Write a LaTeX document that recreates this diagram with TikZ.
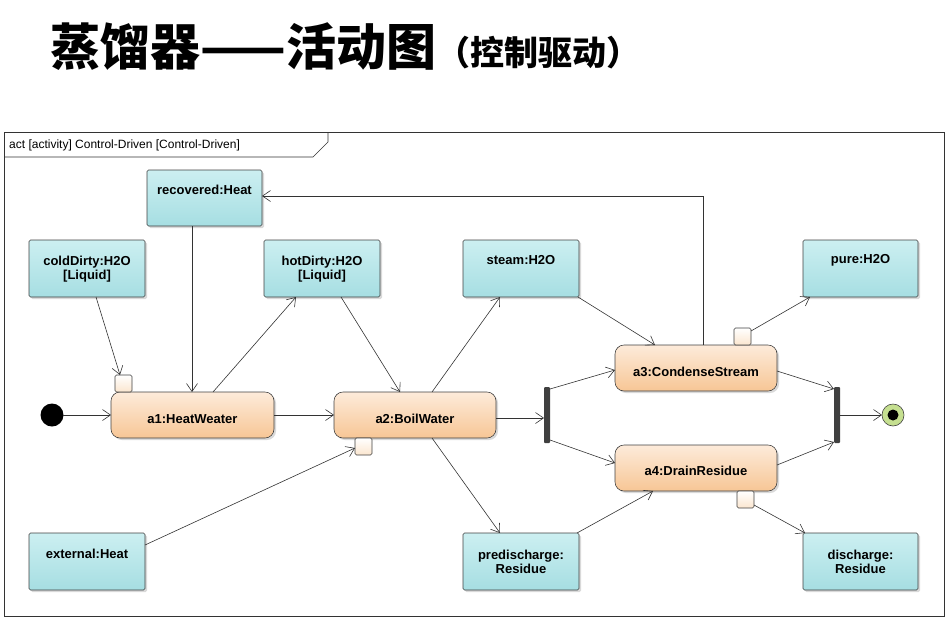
\documentclass[tikz,border=0pt]{standalone}
\usepackage{fontspec}
\setmainfont{Liberation Sans}
\newfontfamily\cjk{Noto Sans CJK SC}
\usetikzlibrary{arrows.meta,shadows}
\definecolor{objT}{HTML}{CCEFF1}
\definecolor{objB}{HTML}{A6DEE2}
\definecolor{actT}{HTML}{FDEBDA}
\definecolor{actB}{HTML}{F7C695}
\definecolor{pinc}{HTML}{FBE6CF}
\definecolor{fing}{HTML}{C5DF90}
\begin{document}
\begin{tikzpicture}[x=1pt,y=-1pt,
  txt/.style={font=\fontsize{13}{16}\selectfont\bfseries, align=center},
  obj/.style={draw=black!75, line width=0.6pt, rounded corners=1.5pt, top color=objT, bottom color=objB, drop shadow={shadow xshift=2pt,shadow yshift=-2pt,fill=black!25,opacity=0.6}},
  act/.style={draw=black!75, line width=0.6pt, rounded corners=9pt, top color=actT, bottom color=actB, drop shadow={shadow xshift=2pt,shadow yshift=-2pt,fill=black!25,opacity=0.6}},
  pin/.style={draw=black!75, line width=0.6pt, rounded corners=1.5pt, top color=white, bottom color=pinc},
  bar/.style={fill=black!75, rounded corners=1pt},
  flow/.style={draw=black!80, line width=0.6pt, -{Straight Barb[length=8pt,width=11pt]}}]
\useasboundingbox (0,0) rectangle (950,622);
% title
\node[anchor=west, inner sep=0] (title) at (50,47) {\cjk\fontsize{50}{54}\selectfont\bfseries 蒸馏器——活动图\fontsize{34}{38}\selectfont（控制驱动）};
% frame
\draw[black!80, line width=0.6pt] (4,132) rectangle (944,616);
\draw[black!80, line width=0.6pt] (4,157) -- (313,157) -- (328,142) -- (328,132);
\node[anchor=west, font=\fontsize{12}{14}\selectfont, inner sep=0] (flabel) at (9,145) {act [activity] Control-Driven [Control-Driven]};
% objects
\draw[obj] (147,170) rectangle (262,226); \node[txt] (rec) at (204.5,190) {recovered:Heat};
\draw[obj] (29,240) rectangle (145,297); \node[txt] (cold) at (87,269) {coldDirty:H2O\\[-2pt][Liquid]};
\draw[obj] (264,240) rectangle (380,297); \node[txt] (hot) at (322,269) {hotDirty:H2O\\[-2pt][Liquid]};
\draw[obj] (463,240) rectangle (579,297); \node[txt] (steam) at (521,260) {steam:H2O};
\draw[obj] (803,240) rectangle (918,297); \node[txt] (pure) at (860.5,260) {pure:H2O};
\draw[obj] (29,533) rectangle (145,590); \node[txt] (ext) at (87,554) {external:Heat};
\draw[obj] (463,533) rectangle (579,590); \node[txt] (pre) at (521,562) {predischarge:\\[-2pt]Residue};
\draw[obj] (803,533) rectangle (918,590); \node[txt] (dis) at (860.5,562) {discharge:\\[-2pt]Residue};
% actions
\draw[act] (111,392) rectangle (274,438); \node[txt] (a1) at (192.5,419) {a1:HeatWeater};
\draw[act] (334,392) rectangle (496,438); \node[txt] (a2) at (415,419) {a2:BoilWater};
\draw[act] (615,345) rectangle (777,391); \node[txt] (a3) at (696,372) {a3:CondenseStream};
\draw[act] (615,445) rectangle (777,491); \node[txt] (a4) at (696,471) {a4:DrainResidue};
% pins
\draw[pin] (115,375) rectangle (132,392); \coordinate (p1) at (120,375);
\draw[pin] (355,438) rectangle (372,455); \coordinate (p2) at (355,448);
\draw[pin] (734,328) rectangle (751,345); \coordinate (p3) at (751,331);
\draw[pin] (737,491) rectangle (754,508); \coordinate (p4) at (754,505);
% control nodes
\fill (52,415) circle (11.5); \coordinate (init) at (63,415);
\draw[fill=fing, draw=black!75, line width=0.6pt] (893,415) circle (11); \fill (893,415) circle (5.5); \coordinate (fin) at (882,415);
\fill[bar] (544,387) rectangle (550,443); \fill[bar] (834,387) rectangle (840,443);
\coordinate (forkin) at (544,418); \coordinate (forkt) at (550,389); \coordinate (forkb) at (550,440);
\coordinate (joint) at (834,389); \coordinate (joinb) at (834,442); \coordinate (joinout) at (840,415);
% flows
\draw[flow] (init) -- (111,415);
\draw[flow] (96,297) -- (p1);
\draw[flow] (192,226) -- (192,392);
\draw[flow] (213,392) -- (296,297);
\draw[flow] (341,297) -- (400,392);
\draw[flow] (274,415) -- (334,415);
\draw[flow] (145,545) -- (p2);
\draw[flow] (432,392) -- (500,297);
\draw[flow] (432,438) -- (500,533);
\draw[flow] (496,418) -- (forkin);
\draw[flow] (forkt) -- (615,370);
\draw[flow] (forkb) -- (615,463);
\draw[flow] (578,297) -- (655,345);
\draw[flow] (703,345) -- (703,196) -- (262,196);
\draw[flow] (p3) -- (810,297);
\draw[flow] (777,371) -- (joint);
\draw[flow] (777,465) -- (joinb);
\draw[flow] (joinout) -- (fin);
\draw[flow] (577,533) -- (653,491);
\draw[flow] (p4) -- (805,533);
\end{tikzpicture}
\end{document}
